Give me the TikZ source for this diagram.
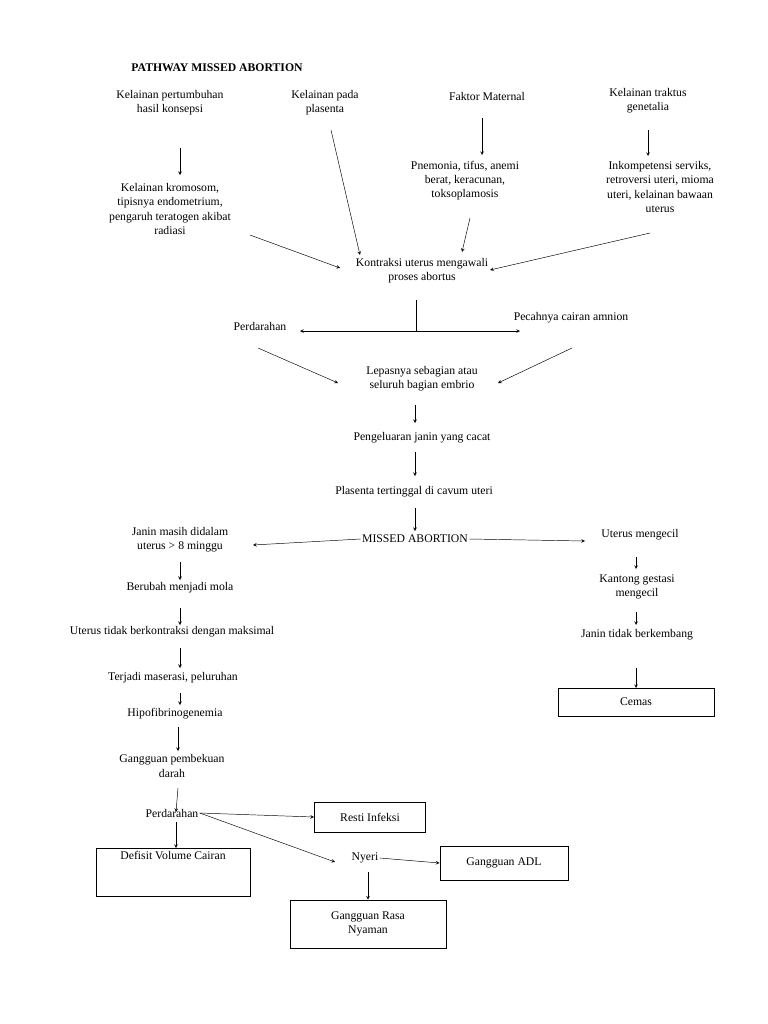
\documentclass[tikz,border=0pt]{standalone}
\usepackage{fontspec}
\setmainfont{Liberation Serif}
\begin{document}
\begin{tikzpicture}[x=0.03cm,y=-0.03cm,
  t/.style={align=center,font=\fontsize{10}{12}\selectfont,inner sep=1pt},
  b/.style={t,draw,thick,minimum height=0.84cm},
  a/.style={->,>=stealth}]
\useasboundingbox (0,0) rectangle (768,1024);
\node[t,font=\bfseries\fontsize{10}{12}\selectfont] (title) at (217,68) {PATHWAY MISSED ABORTION};
\node[t] (k1) at (170,103) {Kelainan pertumbuhan\\hasil konsepsi};
\node[t] (k2) at (325,103) {Kelainan pada\\plasenta};
\node[t] (k3) at (487,96) {Faktor Maternal};
\node[t] (k4) at (648,101) {Kelainan traktus\\genetalia};
\node[t] (k1b) at (170,209) {Kelainan kromosom,\\tipisnya endometrium,\\pengaruh teratogen akibat\\radiasi};
\node[t] (k3b) at (465,181) {Pnemonia, tifus, anemi\\berat, keracunan,\\toksoplamosis};
\node[t] (k4b) at (660,187) {Inkompetensi serviks,\\retroversi uteri, mioma\\uteri, kelainan bawaan\\uterus};
\node[t] (kon) at (422,271) {Kontraksi uterus mengawali\\proses abortus};
\coordinate (c1a) at (180,148); \coordinate (c1b) at (180,175);
\coordinate (c3a) at (482,118); \coordinate (c3b) at (482,155);
\coordinate (c4a) at (648,130); \coordinate (c4b) at (648,156);
\draw[a] (c1a) -- (c1b);
\draw[a] (c3a) -- (c3b);
\draw[a] (c4a) -- (c4b);
\coordinate (s1) at (250,235); \coordinate (e1) at (340,268);
\coordinate (s2) at (331,130); \coordinate (e2) at (360,255);
\coordinate (s3) at (470,218); \coordinate (e3) at (462,252);
\coordinate (s4) at (650,233); \coordinate (e4) at (490,270);
\draw[a] (s1)--(e1); \draw[a] (s2)--(e2); \draw[a] (s3)--(e3); \draw[a] (s4)--(e4);
\node[t] (per1) at (260,326) {Perdarahan};
\node[t] (pec) at (571,318) {Pecahnya cairan amnion};
\coordinate (v1) at (416,300); \coordinate (v2) at (416,331);
\coordinate (hl) at (300,331); \coordinate (hr) at (520,331);
\draw (v1)--(v2);
\draw[<->,>=stealth] (hl)--(hr);
\node[t] (lep) at (422,379) {Lepasnya sebagian atau\\seluruh bagian embrio};
\coordinate (l1) at (258,348); \coordinate (l2) at (338,383);
\coordinate (r1) at (572,348); \coordinate (r2) at (498,383);
\draw[a] (l1)--(l2); \draw[a] (r1)--(r2);
\node[t] (pen) at (422,438) {Pengeluaran janin yang cacat};
\node[t] (pla) at (414,492) {Plasenta tertinggal di cavum uteri};
\node[t] (mis) at (415,539) {MISSED ABORTION};
\draw[a] (415,405)--(415,423);
\draw[a] (415,452)--(415,476);
\draw[a] (415,508)--(415,531);
\node[t] (jan) at (180,540) {Janin masih didalam\\uterus > 8 minggu};
\node[t] (ute) at (640,535) {Uterus mengecil};
\draw[a] (mis.west)--(253,545);
\draw[a] (mis.east)--(585,541);
\node[t] (kan) at (637,587) {Kantong gestasi\\mengecil};
\node[t] (jtb) at (637,635) {Janin tidak berkembang};
\node[b,minimum width=4.68cm] (cem) at (636,702) {Cemas};
\draw[a] (636,557)--(636,569);
\draw[a] (636,612)--(636,625);
\draw[a] (636,668)--(636,688);
\node[t] (ber) at (180,588) {Berubah menjadi mola};
\node[t] (utk) at (172,632) {Uterus tidak berkontraksi dengan maksimal};
\node[t] (ter) at (173,678) {Terjadi maserasi, peluruhan};
\node[t] (hip) at (175,714) {Hipofibrinogenemia};
\node[t] (gan) at (172,766) {Gangguan pembekuan\\darah};
\node[t] (per2) at (172,813) {Perdarahan};
\draw[a] (180,562)--(180,580);
\draw[a] (180,608)--(180,625);
\draw[a] (180,648)--(180,668);
\draw[a] (180,693)--(180,705);
\draw[a] (178,727)--(178,751);
\draw[a] (178,788)--(176,812);
\node[b,minimum width=4.62cm,minimum height=1.44cm] (def) at (173,872) {Defisit Volume Cairan\\[0.6cm]};
\draw[a] (176,822)--(176,848);
\node[b,minimum width=3.33cm,minimum height=0.9cm] (res) at (370,817) {Resti Infeksi};
\draw[a] (per2.east)--(res.west);
\node[t] (nye) at (365,858) {Nyeri};
\draw[a] (per2.east)--(335,862);
\node[b,minimum width=3.84cm,minimum height=1.02cm] (adl) at (504,863) {Gangguan ADL};
\draw[a] (nye.east)--(adl.west);
\node[b,minimum width=4.68cm,minimum height=1.44cm] (ras) at (368,924) {Gangguan Rasa\\Nyaman};
\draw[a] (368,872)--(ras.north);
\end{tikzpicture}
\end{document}
